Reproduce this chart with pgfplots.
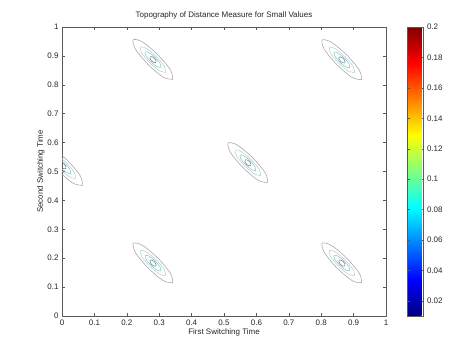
\documentclass[border=0pt]{standalone}
\usepackage{pgfplots}
\pgfplotsset{compat=1.18}
\usepackage{fontspec}
\setmainfont{Liberation Sans}
\definecolor{cA}{RGB}{172,160,166}
\definecolor{cB}{RGB}{178,214,214}
\definecolor{cC}{RGB}{140,196,200}
\definecolor{cD}{RGB}{110,128,140}
\begin{document}
\begin{tikzpicture}
\begin{axis}[
  at={(0,0)}, anchor=south west,
  scale only axis, width=324bp, height=289bp,
  xmin=0, xmax=1, ymin=0, ymax=1,
  xtick={0,0.1,...,1.01}, ytick={0,0.1,...,1.01},
  xticklabels={0,0.1,0.2,0.3,0.4,0.5,0.6,0.7,0.8,0.9,1},
  yticklabels={0,0.1,0.2,0.3,0.4,0.5,0.6,0.7,0.8,0.9,1},
  tick align=inside, major tick length=3bp,
  tick style={black!65, line width=0.4pt},
  axis line style={black!65, line width=0.4pt},
  tick label style={font=\fontsize{8}{9.5}\selectfont, text=black!85},
  label style={font=\fontsize{8}{9.5}\selectfont, text=black!85},
  title style={font=\fontsize{8}{9.5}\selectfont, text=black!85, yshift=-2bp},
  /pgf/number format/assume math mode=true,
  title={Topography of Distance Measure for Small Values},
  xlabel={First Switching Time},
  ylabel={Second Switching Time},
  xlabel style={yshift=3bp},
  ylabel style={yshift=-4bp},
  colormap/jet,
  point meta min=0.01, point meta max=0.2,
  colorbar right,
  colorbar style={
    at={(parent axis.north east)}, anchor=north west, xshift=13bp,
    width=16bp,
    ytick={0.02,0.04,...,0.201},
    yticklabels={0.02,0.04,0.06,0.08,0.1,0.12,0.14,0.16,0.18,0.2},
    tick label style={font=\fontsize{8}{9.5}\selectfont, text=black!85},
    major tick length=2bp,
    tick style={black!65},
    axis line style={black!65, line width=0.4pt},
    /pgf/number format/assume math mode=true,
  },
  every axis plot/.append style={line width=0.55pt, smooth, no markers},
]
% outer level
\addplot[cA] coordinates {(0.342,0.819)(0.335,0.851)(0.296,0.904)(0.249,0.948)(0.220,0.956)(0.227,0.923)(0.266,0.870)(0.313,0.826)(0.342,0.819)};
\addplot[cA] coordinates {(0.925,0.818)(0.918,0.850)(0.879,0.903)(0.832,0.947)(0.803,0.955)(0.810,0.922)(0.849,0.869)(0.896,0.825)(0.925,0.818)};
\addplot[cA] coordinates {(0.635,0.462)(0.628,0.494)(0.589,0.547)(0.542,0.591)(0.513,0.599)(0.520,0.566)(0.559,0.513)(0.606,0.469)(0.635,0.462)};
\addplot[cA] coordinates {(0.064,0.452)(0.057,0.484)(0.018,0.537)(-0.029,0.581)(-0.058,0.589)(-0.051,0.556)(-0.012,0.503)(0.035,0.459)(0.064,0.452)};
\addplot[cA] coordinates {(0.342,0.115)(0.335,0.147)(0.296,0.200)(0.249,0.244)(0.220,0.252)(0.227,0.219)(0.266,0.166)(0.313,0.122)(0.342,0.115)};
\addplot[cA] coordinates {(0.925,0.115)(0.918,0.147)(0.879,0.200)(0.832,0.244)(0.803,0.252)(0.810,0.219)(0.849,0.166)(0.896,0.122)(0.925,0.115)};
% second level
\addplot[cB] coordinates {(0.320,0.843)(0.316,0.864)(0.291,0.898)(0.260,0.926)(0.242,0.931)(0.246,0.910)(0.271,0.876)(0.302,0.848)(0.320,0.843)};
\addplot[cB] coordinates {(0.903,0.842)(0.899,0.863)(0.874,0.897)(0.843,0.925)(0.825,0.930)(0.829,0.909)(0.854,0.875)(0.885,0.847)(0.903,0.842)};
\addplot[cB] coordinates {(0.613,0.486)(0.609,0.507)(0.584,0.541)(0.553,0.569)(0.535,0.574)(0.539,0.553)(0.564,0.519)(0.595,0.491)(0.613,0.486)};
\addplot[cB] coordinates {(0.042,0.476)(0.038,0.497)(0.013,0.531)(-0.018,0.559)(-0.036,0.564)(-0.032,0.543)(-0.007,0.509)(0.024,0.481)(0.042,0.476)};
\addplot[cB] coordinates {(0.320,0.139)(0.316,0.160)(0.291,0.194)(0.260,0.222)(0.242,0.227)(0.246,0.206)(0.271,0.172)(0.302,0.144)(0.320,0.139)};
\addplot[cB] coordinates {(0.903,0.139)(0.899,0.160)(0.874,0.194)(0.843,0.222)(0.825,0.227)(0.829,0.206)(0.854,0.172)(0.885,0.144)(0.903,0.139)};
% third level
\addplot[cC] coordinates {(0.305,0.860)(0.303,0.873)(0.288,0.894)(0.269,0.911)(0.257,0.914)(0.259,0.901)(0.274,0.880)(0.293,0.863)(0.305,0.860)};
\addplot[cC] coordinates {(0.888,0.859)(0.886,0.872)(0.871,0.893)(0.852,0.910)(0.840,0.913)(0.842,0.900)(0.857,0.879)(0.876,0.862)(0.888,0.859)};
\addplot[cC] coordinates {(0.598,0.503)(0.596,0.516)(0.581,0.537)(0.562,0.554)(0.550,0.557)(0.552,0.544)(0.567,0.523)(0.586,0.506)(0.598,0.503)};
\addplot[cC] coordinates {(0.027,0.493)(0.025,0.506)(0.010,0.527)(-0.009,0.544)(-0.021,0.547)(-0.019,0.534)(-0.004,0.513)(0.015,0.496)(0.027,0.493)};
\addplot[cC] coordinates {(0.305,0.156)(0.303,0.169)(0.288,0.190)(0.269,0.207)(0.257,0.210)(0.259,0.197)(0.274,0.176)(0.293,0.159)(0.305,0.156)};
\addplot[cC] coordinates {(0.888,0.156)(0.886,0.169)(0.871,0.190)(0.852,0.207)(0.840,0.210)(0.842,0.197)(0.857,0.176)(0.876,0.159)(0.888,0.156)};
% inner level
\addplot[cD] coordinates {(0.2897,0.8772)(0.2903,0.8835)(0.2854,0.8919)(0.2779,0.8974)(0.2723,0.8968)(0.2717,0.8905)(0.2766,0.8821)(0.2841,0.8766)(0.2897,0.8772)};
\addplot[cD] coordinates {(0.8727,0.8762)(0.8733,0.8825)(0.8684,0.8909)(0.8609,0.8964)(0.8553,0.8958)(0.8547,0.8895)(0.8596,0.8811)(0.8671,0.8756)(0.8727,0.8762)};
\addplot[cD] coordinates {(0.5827,0.5202)(0.5833,0.5265)(0.5784,0.5349)(0.5709,0.5404)(0.5653,0.5398)(0.5647,0.5335)(0.5696,0.5251)(0.5771,0.5196)(0.5827,0.5202)};
\addplot[cD] coordinates {(0.0117,0.5102)(0.0123,0.5165)(0.0074,0.5249)(-0.0001,0.5304)(-0.0057,0.5298)(-0.0063,0.5235)(-0.0014,0.5151)(0.0061,0.5096)(0.0117,0.5102)};
\addplot[cD] coordinates {(0.2897,0.1732)(0.2903,0.1795)(0.2854,0.1879)(0.2779,0.1934)(0.2723,0.1928)(0.2717,0.1865)(0.2766,0.1781)(0.2841,0.1726)(0.2897,0.1732)};
\addplot[cD] coordinates {(0.8727,0.1732)(0.8733,0.1795)(0.8684,0.1879)(0.8609,0.1934)(0.8553,0.1928)(0.8547,0.1865)(0.8596,0.1781)(0.8671,0.1726)(0.8727,0.1732)};
\end{axis}
\path[use as bounding box] (-62bp,-39bp) rectangle (412bp,316bp);
\end{tikzpicture}
\end{document}
